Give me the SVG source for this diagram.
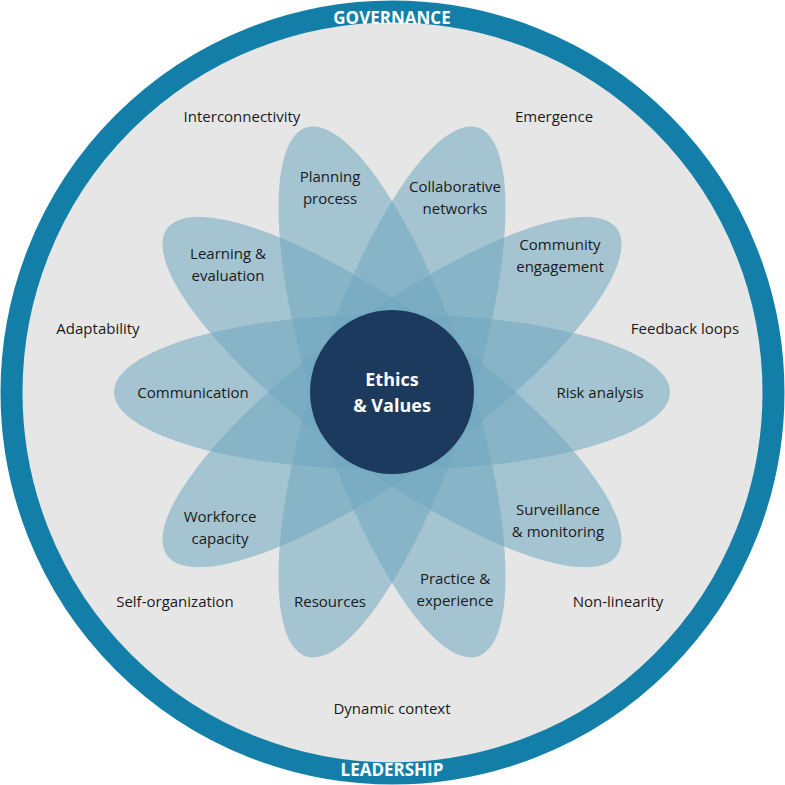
<svg xmlns="http://www.w3.org/2000/svg" width="785" height="785" viewBox="0 0 785 785">
<style>
.p{fill:#6fa8c0;fill-opacity:0.55}
.t{font-family:"Open Sans","Liberation Sans",sans-serif;font-size:15px;fill:#1a1a1a;text-anchor:middle}
.w{font-family:"Open Sans","Liberation Sans",sans-serif;font-weight:bold;fill:#fff;text-anchor:middle}
</style>
<g id="ring"><circle cx="392.5" cy="392.5" r="381" fill="#e6e6e6" stroke="#137fa8" stroke-width="22"/></g>
<g id="petals" transform="translate(392,392)">
<ellipse class="p" rx="278" ry="78"/>
<ellipse class="p" rx="278" ry="78" transform="rotate(36)"/>
<ellipse class="p" rx="278" ry="78" transform="rotate(72)"/>
<ellipse class="p" rx="278" ry="78" transform="rotate(108)"/>
<ellipse class="p" rx="278" ry="78" transform="rotate(144)"/>
</g>
<g id="center"><circle cx="392" cy="392" r="82" fill="#1b3a5e"/>
<text class="w" font-size="18" x="392" y="386">Ethics</text>
<text class="w" font-size="18" x="392" y="412">&amp; Values</text></g>
<g id="ringlabels">
<text class="w" font-size="17" x="392" y="24">GOVERNANCE</text>
<text class="w" font-size="17" x="392" y="776">LEADERSHIP</text>
</g>
<g id="labels">
<text class="t" x="330" y="182">Planning</text><text class="t" x="330" y="204">process</text>
<text class="t" x="455" y="192">Collaborative</text><text class="t" x="455" y="214">networks</text>
<text class="t" x="228" y="259">Learning &amp;</text><text class="t" x="228" y="281">evaluation</text>
<text class="t" x="560" y="250">Community</text><text class="t" x="560" y="272">engagement</text>
<text class="t" x="193" y="398">Communication</text>
<text class="t" x="600" y="398">Risk analysis</text>
<text class="t" x="220" y="522">Workforce</text><text class="t" x="220" y="544">capacity</text>
<text class="t" x="558" y="515">Surveillance</text><text class="t" x="558" y="537">&amp; monitoring</text>
<text class="t" x="330" y="607">Resources</text>
<text class="t" x="455" y="584">Practice &amp;</text><text class="t" x="455" y="606">experience</text>
<text class="t" x="242" y="122">Interconnectivity</text>
<text class="t" x="554" y="122">Emergence</text>
<text class="t" x="98" y="334">Adaptability</text>
<text class="t" x="685" y="334">Feedback loops</text>
<text class="t" x="175" y="607">Self-organization</text>
<text class="t" x="618" y="607">Non-linearity</text>
<text class="t" x="392" y="714">Dynamic context</text>
</g>
</svg>
